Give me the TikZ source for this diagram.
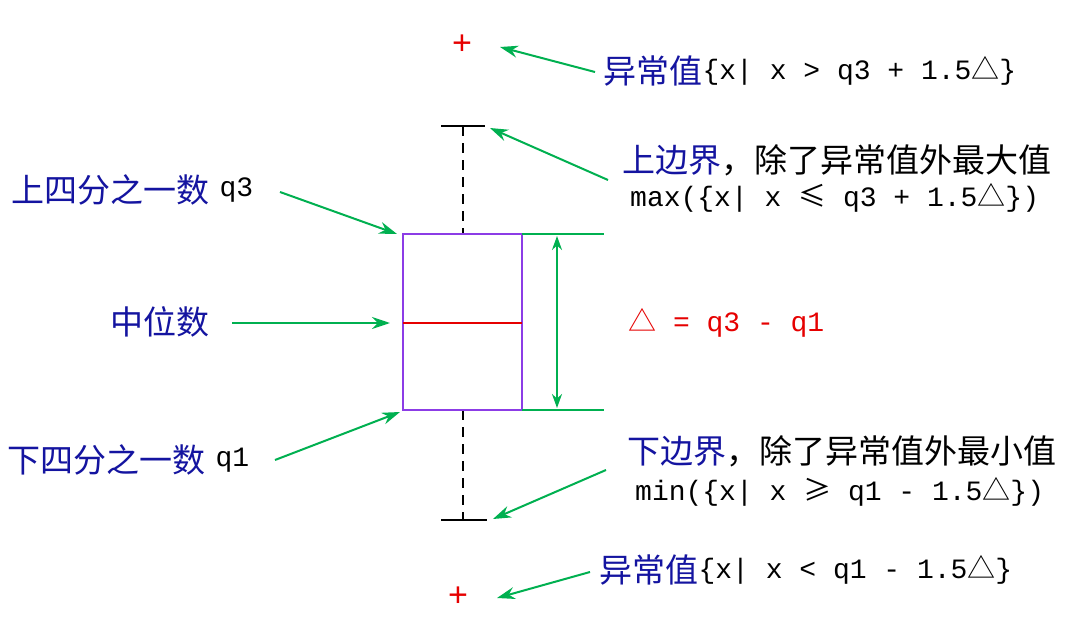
\documentclass[tikz,border=0pt]{standalone}
\usepackage{fontspec}
\setmainfont{Liberation Mono}
\newfontfamily\cjk{Noto Sans CJK SC}
\usetikzlibrary{arrows.meta}
\definecolor{gr}{RGB}{0,176,80}
\definecolor{navy}{RGB}{20,20,160}
\definecolor{rd}{RGB}{230,0,0}
\definecolor{pur}{RGB}{140,60,230}
\tikzset{
 arr/.style={gr,line width=2pt,-{Stealth[length=18pt,width=12pt]}},
 cn/.style={font=\cjk\fontsize{33}{36}\selectfont,inner sep=0pt,anchor=west},
 mt/.style={font=\fontsize{28}{31}\selectfont,inner sep=0pt,anchor=west},
}
\newcommand{\tri}{{\cjk △}}
\begin{document}
\begin{tikzpicture}[x=1pt,y=-1pt]
\useasboundingbox (0,0) rectangle (1080,626);
\fill[white] (0,0) rectangle (1080,626);
% plus signs
\node[rd,font=\fontsize{34}{36}\selectfont,inner sep=0pt] (p1) at (462,45) {+};
\node[rd,font=\fontsize{34}{36}\selectfont,inner sep=0pt] (p2) at (458,597) {+};
% whiskers
\coordinate (tc) at (463,126); \coordinate (bc) at (463,520);
\draw[line width=2pt] (441,126) -- (485,126);
\draw[line width=2pt] (441,520) -- (487,520);
\draw[line width=1.4pt,dash pattern=on 10pt off 7pt] (tc) -- (463,234);
\draw[line width=1.4pt,dash pattern=on 10pt off 7pt] (463,410) -- (bc);
% box
\draw[pur,line width=1.6pt] (403,234) rectangle (522,410);
\draw[rd,line width=2pt] (403,323) -- (522,323);
\draw[gr,line width=2pt] (522,234) -- (604,234);
\draw[gr,line width=2pt] (522,410) -- (604,410);
\draw[gr,line width=2pt,{Stealth[length=14pt,width=10pt]}-{Stealth[length=14pt,width=10pt]}] (557,236) -- (557,408);
\node[mt,rd] (delta) at (628,323) {\tri\ = q3 - q1};
% labels
\node[cn,navy] (o1) at (603,71) {异常值};
\node[mt] (o1m) at (o1.east) {\{x| x > q3 + 1.5\tri\}};
\node[cn] (ub) at (622,160) {\textcolor{navy}{上边界}，除了异常值外最大值};
\node[mt] (ubm) at (630,198) {max(\{x| x {\cjk ≤} q3 + 1.5\tri\})};
\node[cn,navy] (q3) at (11,190) {上四分之一数};
\node[mt] at ([xshift=10pt]q3.east) {q3};
\node[cn,navy] (md) at (110,322) {中位数};
\node[cn,navy] (q1) at (7,460) {下四分之一数};
\node[mt] at ([xshift=10pt]q1.east) {q1};
\node[cn] (lb) at (627,451) {\textcolor{navy}{下边界}，除了异常值外最小值};
\node[mt] (lbm) at (635,492) {min(\{x| x {\cjk ≥} q1 - 1.5\tri\})};
\node[cn,navy] (o2) at (599,570) {异常值};
\node[mt] (o2m) at (o2.east) {\{x| x < q1 - 1.5\tri\}};
% arrows
\draw[arr] (595,72) -- (500,47);
\draw[arr] (608,180) -- (490,128);
\draw[arr] (280,192) -- (397,234);
\draw[arr] (232,323) -- (390,323);
\draw[arr] (275,460) -- (400,412);
\draw[arr] (606,470) -- (493,519);
\draw[arr] (590,572) -- (497,598);
\end{tikzpicture}
\end{document}
